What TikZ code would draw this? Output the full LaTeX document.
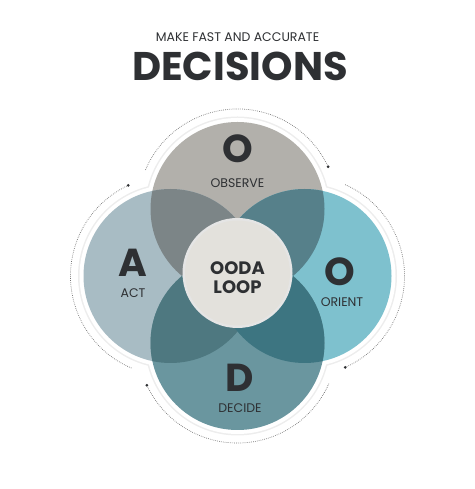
\documentclass[tikz,border=0pt]{standalone}
\usepackage{fontspec}
\setmainfont{Poppins}
\usepackage{xcolor}
\definecolor{ink}{HTML}{2E3033}
\definecolor{observecol}{HTML}{B2B0AB}
\definecolor{actcol}{HTML}{A8BCC4}
\definecolor{orientcol}{HTML}{7EC1CE}
\definecolor{decidecol}{HTML}{6A969F}
\definecolor{obsact}{HTML}{7C8587}
\definecolor{obsori}{HTML}{56808A}
\definecolor{actdec}{HTML}{4E7880}
\definecolor{oridec}{HTML}{3D7581}
\definecolor{loopcol}{HTML}{E3E1DC}

\begin{document}
\begin{tikzpicture}[x=1pt,y=1pt]
\tikzstyle{every node}+=[inner sep=0pt]
\tikzstyle{bigletter}=[font=\fontsize{39}{39}\selectfont\bfseries, text=ink]
\tikzstyle{wordlabel}=[font=\fontsize{12.5}{12.5}\selectfont, text=ink]
\tikzstyle{looparc}=[black!55, line width=0.7pt, dash pattern=on 0.7pt off 1.2pt]
\useasboundingbox (0,0) rectangle (474,489);
% centres of the four phases
\coordinate (obs) at (237.5,280);
\coordinate (ori) at (304.5,213);
\coordinate (dec) at (237.5,146);
\coordinate (act) at (170.5,213);
\coordinate (mid) at (237.5,216);
% soft halo
\foreach \c in {obs,ori,dec,act} \fill [black!7] (\c) circle (92.5);
\foreach \c in {obs,ori,dec,act} \fill [white] (\c) circle (91);
% phase discs
\fill [observecol] (obs) circle (87);
\fill [actcol] (act) circle (87);
\fill [orientcol] (ori) circle (87);
\fill [decidecol] (dec) circle (87);
% overlaps
\begin{scope}
\clip (obs) circle (87);
\fill [obsact] (act) circle (87);
\fill [obsori] (ori) circle (87);
\end{scope}
\begin{scope}
\clip (dec) circle (87);
\fill [actdec] (act) circle (87);
\fill [oridec] (ori) circle (87);
\end{scope}
\begin{scope}
\clip (obs) circle (87);
\clip (dec) circle (87);
\fill [actcol] (act) circle (87);
\fill [orientcol] (ori) circle (87);
\end{scope}
% centre disc
\fill [black!10] (mid) circle (55);
\fill [loopcol] (mid) circle (52.5);
% dotted loop arcs
\draw [looparc] (obs) ++(157:100) arc (157:25:100) coordinate (obsend);
\fill [ink] (obsend) circle (1.5);
\draw [looparc] (ori) ++(66:100) arc (66:-66:100) coordinate (oriend);
\fill [ink] (oriend) circle (1.5);
\draw [looparc] (dec) ++(-24:100) arc (-24:-155:100) coordinate (decend);
\fill [ink] (decend) circle (1.5);
\draw [looparc] (act) ++(247:100) arc (247:115:100) coordinate (actend);
\fill [ink] (actend) circle (1.5);
% title
\node (subtitle) at (237.5,451.5) [font=\fontsize{12.5}{12.5}\selectfont, text=ink] {MAKE FAST AND ACCURATE};
\node (title) at (240,422.5) [font=\fontsize{40}{40}\selectfont\bfseries, text=ink] {DECISIONS};
% letters and words
\node (obsletter) at (237.5,340) [bigletter] {O};
\node (obsword) at (237.5,305.5) [wordlabel] {OBSERVE};
\node (actletter) at (133,226) [bigletter] {A};
\node (actword) at (133,196) [wordlabel] {ACT};
\node (oriletter) at (340,217) [bigletter] {O};
\node (oriword) at (342,187) [wordlabel] {ORIENT};
\node (decletter) at (240,111) [bigletter] {D};
\node (decword) at (240,81) [wordlabel] {DECIDE};
\node (ooda) at (237.5,220.5) [font=\fontsize{18}{18}\selectfont\bfseries, text=ink] {OODA};
\node (loop) at (237.5,201.5) [font=\fontsize{18}{18}\selectfont\bfseries, text=ink] {LOOP};
\end{tikzpicture}
\end{document}
